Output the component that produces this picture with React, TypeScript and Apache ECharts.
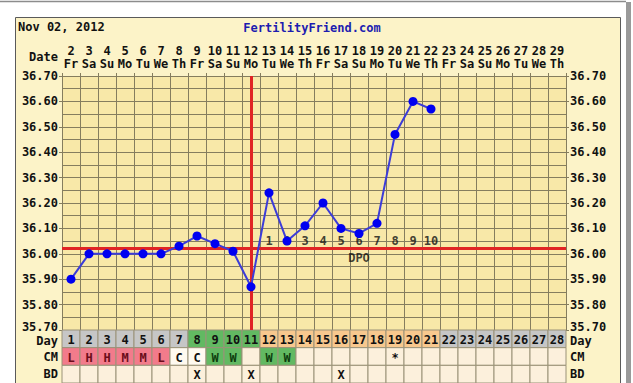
import React, { useEffect, useRef } from 'react';
import * as echarts from 'echarts';

// ---- data ----
const cycleDays = ['1','2','3','4','5','6','7','8','9','10','11','12','13','14','15','16','17','18','19','20','21','22','23','24','25','26','27','28'];
const dates = ['2','3','4','5','6','7','8','9','10','11','12','13','14','15','16','17','18','19','20','21','22','23','24','25','26','27','28','29'];
const weekdays = ['Fr','Sa','Su','Mo','Tu','We','Th','Fr','Sa','Su','Mo','Tu','We','Th','Fr','Sa','Su','Mo','Tu','We','Th','Fr','Sa','Su','Mo','Tu','We','Th'];
const temps = [35.90, 36.00, 36.00, 36.00, 36.00, 36.00, 36.03, 36.07, 36.04, 36.01, 35.87, 36.24, 36.05, 36.11, 36.20, 36.10, 36.08, 36.12, 36.47, 36.60, 36.57];
const tempMin = 35.7;
const tempMax = 36.7;
const tempStep = 0.1;
const coverline = 36.02;
const ovulationDay = '11';
const dpoDays = ['12','13','14','15','16','17','18','19','20','21'];
const dpoLabels = ['1','2','3','4','5','6','7','8','9','10'];
const dpoTitleDay = '17';
const dayPhase = ['gray','gray','gray','gray','gray','gray','gray','green','green','green','green','orange','orange','orange','orange','orange','orange','orange','orange','orange','orange','gray','gray','gray','gray','gray','gray','gray'];
const cmValues = ['L','H','H','M','M','L','C','C','W','W','','W','W','','','','','','*','','','','','','','','',''];
const bdValues = ['','','','','','','','X','','','X','','','','','X','','','','','','','','','','','',''];
const tableRows = ['Day','CM','BD'];

// ---- styles ----
const FONT = "'DejaVu Sans Mono', monospace";
const GRID_C = '#857d5e';
const phaseColor: Record<string, string> = { gray: '#c6c6c6', green: '#62b962', orange: '#f8c88e' };
const cmColor = (v: string) => (v === 'L' || v === 'H' || v === 'M') ? '#f27b8b' : v === 'C' ? '#fffaf0' : v === 'W' ? '#62b962' : '#fcf0dc';
const cmText = (v: string) => (v === 'L' || v === 'H' || v === 'M') ? '#6a0d1a' : v === 'W' ? '#0d3d0d' : '#111';

export default function App() {
  const ref = useRef<HTMLDivElement>(null);
  useEffect(() => {
    document.body.style.margin = '0';
    const chart = echarts.init(ref.current!, null, { renderer: 'svg' });

    const cells: { x: number; y: number; text: string; fill: string; color: string }[] = [];
    cycleDays.forEach((d, i) => cells.push({ x: i, y: 0, text: d, fill: phaseColor[dayPhase[i]], color: '#111' }));
    cmValues.forEach((v, i) => cells.push({ x: i, y: 1, text: v, fill: cmColor(v), color: cmText(v) }));
    bdValues.forEach((v, i) => cells.push({ x: i, y: 2, text: v, fill: '#fcf0dc', color: '#111' }));

    const labelFont = { fontFamily: FONT, fontWeight: 'bold' as const, fontSize: 12, color: '#111' };
    const yLabel = {
      ...labelFont, margin: 4, lineHeight: 10,
      formatter: (v: number) => (Math.abs(v - tempMin) < 1e-6 ? `{lo|${v.toFixed(2)}}` : v.toFixed(2)),
      rich: { lo: { ...labelFont, lineHeight: 10, padding: [0, 0, 7, 0] } },
    };
    const rowLabel = {
      ...labelFont, margin: 4, lineHeight: 10,
      formatter: (v: string) => (v === tableRows[0] ? `{hi|${v}}` : v),
      rich: { hi: { ...labelFont, lineHeight: 10, padding: [5, 0, 0, 0] } },
    };

    const option: any = {
      animation: false,
      backgroundColor: '#ffffff',
      graphic: [
        { type: 'line', z: -20, shape: { x1: 0, y1: 1.5, x2: 626, y2: 1.5 }, style: { stroke: '#8c8c8c', lineWidth: 1.5 } },
        { type: 'rect', z: -20, shape: { x: 626, y: 2, width: 5, height: 381 }, style: { fill: '#9a9a9a' } },
        { type: 'rect', z: -10, shape: { x: 15.5, y: 17.5, width: 605, height: 380 }, style: { fill: '#fcf3c8', stroke: '#5a5a5a', lineWidth: 1 } },
        { type: 'text', z: 10, style: { text: 'Nov 02, 2012', x: 18, y: 27, verticalAlign: 'middle', font: `bold 12px ${FONT}`, fill: '#111' } },
        { type: 'text', z: 10, style: { text: 'FertilityFriend.com', x: 312, y: 28, align: 'center', verticalAlign: 'middle', font: `bold 12px ${FONT}`, fill: '#1c1cb0' } },
        { type: 'text', z: 10, style: { text: 'Date', x: 58, y: 57, align: 'right', verticalAlign: 'middle', font: `bold 12px ${FONT}`, fill: '#111' } },
      ],
      grid: [
        { left: 62, top: 76, width: 504, height: 254, show: true, backgroundColor: '#f8e8a8', borderWidth: 0 },
        { left: 62, top: 330, width: 504, height: 55, show: false },
      ],
      xAxis: [
        {
          gridIndex: 0, type: 'category', data: cycleDays, position: 'top', boundaryGap: true,
          axisLine: { show: true, lineStyle: { color: GRID_C, width: 1 } },
          axisTick: { show: true, length: 3, interval: 0, lineStyle: { color: GRID_C } },
          axisLabel: { ...labelFont, interval: 0, margin: 6, formatter: (_v: string, i: number) => weekdays[i] },
          splitLine: { show: true, interval: 0, lineStyle: { color: GRID_C, width: 1 } },
        },
        {
          gridIndex: 0, type: 'category', data: cycleDays, position: 'top', offset: 13, boundaryGap: true,
          axisLine: { show: false }, axisTick: { show: false },
          axisLabel: { ...labelFont, interval: 0, margin: 6, formatter: (_v: string, i: number) => dates[i] },
          splitLine: { show: false },
        },
        { gridIndex: 1, type: 'category', data: cycleDays, show: false, boundaryGap: true },
      ],
      yAxis: [
        {
          gridIndex: 0, type: 'value', min: tempMin, max: tempMax, interval: tempStep, position: 'left',
          axisLine: { show: true, lineStyle: { color: GRID_C } },
          axisTick: { show: true, length: 3, lineStyle: { color: GRID_C } },
          axisLabel: yLabel,
          splitLine: { show: true, lineStyle: { color: GRID_C, width: 1 } },
          minorTick: { show: false, splitNumber: 2 },
          minorSplitLine: { show: true, lineStyle: { color: GRID_C, width: 1 } },
        },
        {
          gridIndex: 0, type: 'value', min: tempMin, max: tempMax, interval: tempStep, position: 'right',
          axisLine: { show: true, lineStyle: { color: GRID_C } },
          axisTick: { show: true, length: 3, lineStyle: { color: GRID_C } },
          axisLabel: yLabel,
          splitLine: { show: false },
        },
        {
          gridIndex: 1, type: 'category', data: tableRows, inverse: true, position: 'left',
          axisLine: { show: false }, axisTick: { show: false },
          axisLabel: rowLabel,
        },
        {
          gridIndex: 1, type: 'category', data: tableRows, inverse: true, position: 'right',
          axisLine: { show: false }, axisTick: { show: false },
          axisLabel: rowLabel,
        },
      ],
      series: [
        {
          type: 'scatter', xAxisIndex: 0, yAxisIndex: 0, z: 1, silent: true,
          symbolSize: 0,
          data: dpoDays.map((d, i) => ({ value: [d, coverline], label: { formatter: dpoLabels[i] } })),
          label: { show: true, position: 'top', distance: 2, ...labelFont },
          markLine: {
            silent: true, symbol: 'none', label: { show: false },
            lineStyle: { color: '#e02424', width: 3, type: 'solid' },
            data: [{ yAxis: coverline }, { xAxis: ovulationDay }],
          },
        },
        {
          type: 'scatter', xAxisIndex: 0, yAxisIndex: 0, z: 1, silent: true,
          symbolSize: 0,
          data: [{ value: [dpoTitleDay, coverline] }],
          label: { show: true, position: 'bottom', distance: 3, formatter: 'DPO', ...labelFont },
        },
        {
          type: 'line', xAxisIndex: 0, yAxisIndex: 0, z: 5,
          data: temps,
          symbol: 'circle', symbolSize: 9,
          itemStyle: { color: '#0000f0' },
          lineStyle: { color: '#3c3cd8', width: 2 },
        },
        {
          type: 'custom', xAxisIndex: 2, yAxisIndex: 2, silent: true,
          data: cells.map((c) => [c.x, c.y]),
          renderItem: (params: any, api: any) => {
            const cell = cells[params.dataIndex];
            const p = api.coord([api.value(0), api.value(1)]);
            const s = api.size([1, 1]);
            return {
              type: 'group',
              children: [
                { type: 'rect', shape: { x: p[0] - s[0] / 2, y: p[1] - s[1] / 2, width: s[0], height: s[1] }, style: { fill: cell.fill, stroke: '#9a9278', lineWidth: 1 } },
                { type: 'text', style: { text: cell.text, x: p[0], y: p[1] + 1, align: 'center', verticalAlign: 'middle', font: `bold 12px ${FONT}`, fill: cell.color } },
              ],
            };
          },
        },
      ],
    };
    chart.setOption(option);
    return () => chart.dispose();
  }, []);
  return <div ref={ref} style={{ position: 'absolute', left: 0, top: 0, width: 633, height: 383 }} />;
}
